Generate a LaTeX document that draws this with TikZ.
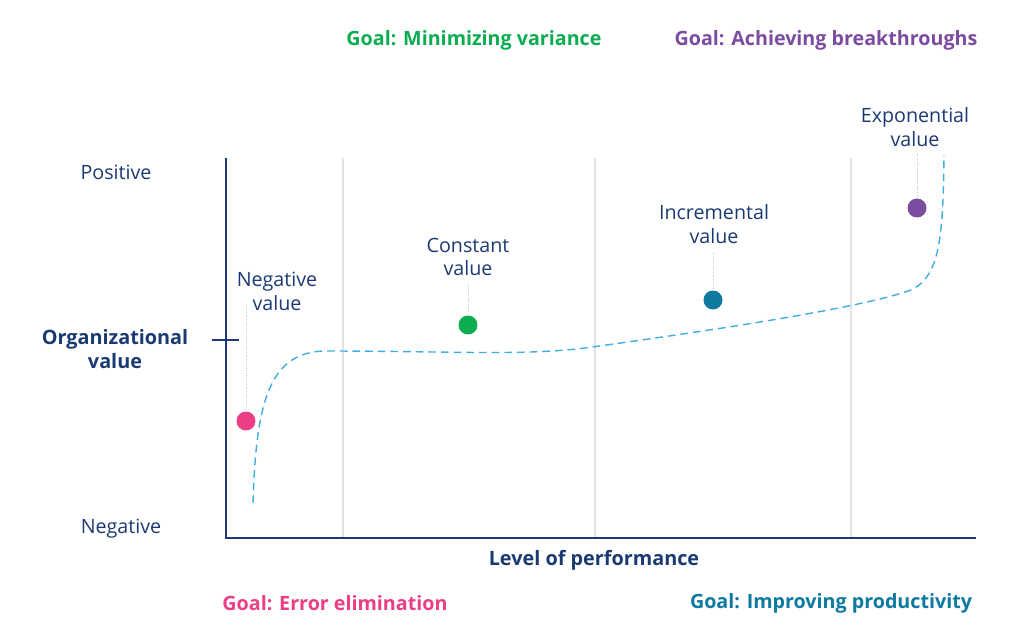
\documentclass[tikz,border=0pt]{standalone}
\usepackage{fontspec}
\setmainfont{Open Sans}
\definecolor{navy}{HTML}{1B3A72}
\definecolor{ggreen}{HTML}{0BAD50}
\definecolor{gpurple}{HTML}{7B4CA0}
\definecolor{gpink}{HTML}{EC3E86}
\definecolor{gteal}{HTML}{0E7AA0}
\definecolor{curveblue}{HTML}{41AEE3}
\definecolor{gridgray}{HTML}{E2E2E2}
\definecolor{leadgray}{HTML}{C8C8C8}
\begin{document}
\begin{tikzpicture}[x=0.025cm,y=-0.025cm,
  lbl/.style={font=\fontsize{14}{17}\selectfont, text=navy, align=center, inner sep=0pt},
  axlbl/.style={font=\fontsize{14.1}{17.3}\selectfont\bfseries, text=navy, align=center, inner sep=0pt},
  goal/.style={font=\fontsize{14}{17}\selectfont\bfseries, inner sep=0pt},
  dot/.style={circle, fill=#1, minimum size=13.5pt, inner sep=0pt},
  lead/.style={leadgray, line width=0.6pt, densely dotted},
  grid line/.style={gridgray, line width=1pt},
  axis line/.style={navy, line width=1pt},
  valcurve/.style={curveblue, line width=1pt, dash pattern=on 5.5pt off 3.5pt}]
\useasboundingbox (0,0) rectangle (1024,637);
% grid
\draw[grid line] (343,158) -- (343,538);
\draw[grid line] (595,158) -- (595,538);
\draw[grid line] (851,158) -- (851,538);
% axes
\coordinate (ytop) at (226,158);
\coordinate (origin) at (226,538);
\coordinate (xend) at (976,538);
\draw[axis line] (ytop) -- (origin) -- (xend);
\coordinate (tickL) at (212,340);
\coordinate (tickR) at (239,340);
\draw[axis line] (tickL) -- (tickR);
% axis labels
\node[lbl] (pos) at (116,172) {Positive};
\node[lbl] (neg) at (121,529) {Negative};
\node[axlbl] (org) at (115,349) {Organizational\\value};
\node[axlbl] (lop) at (594,560) {Level of performance};
% goals
\node[goal, text=ggreen] (g1) at (474,40) {Goal: Minimizing variance};
\node[goal, text=gpurple] (g2) at (826,40) {Goal: Achieving breakthroughs};
\node[goal, text=gpink] (g3) at (335,603) {Goal: Error elimination};
\node[goal, text=gteal] (g4) at (831,603) {Goal: Improving productivity};
% curve
\draw[valcurve] (253,503) .. controls (256,400) and (270,352) .. (325,351)
  .. controls (450,351) and (520,356) .. (585,348)
  .. controls (700,332) and (850,310) .. (905,292)
  .. controls (940,282) and (943,240) .. (944,155);
% value labels
\node[lbl] (l1) at (277,291) {Negative\\value};
\node[lbl] (l2) at (468,257) {Constant\\value};
\node[lbl] (l3) at (714,224) {Incremental\\value};
\node[lbl] (l4) at (915,127) {Exponential\\value};
% dots
\node[dot=gpink] (d1) at (246,421) {};
\node[dot=ggreen] (d2) at (468,325) {};
\node[dot=gteal] (d3) at (713,300) {};
\node[dot=gpurple] (d4) at (917,208) {};
% leaders
\coordinate (t1) at (246,305);
\coordinate (t2) at (468,284);
\coordinate (t3) at (713,252);
\coordinate (t4) at (917,154);
\draw[lead] (t1) -- (d1);
\draw[lead] (t2) -- (d2);
\draw[lead] (t3) -- (d3);
\draw[lead] (t4) -- (d4);
\end{tikzpicture}
\end{document}
